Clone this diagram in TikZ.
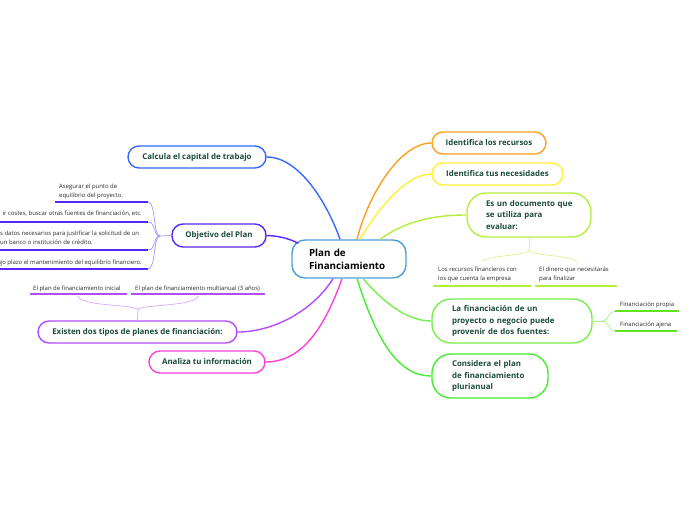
\documentclass[tikz,border=0pt]{standalone}
\usepackage{fontspec}
\setmainfont{Open Sans}
\usetikzlibrary{calc}
\definecolor{txt}{HTML}{1B4A3C}
\definecolor{cCen}{HTML}{4BA0DC}
\definecolor{cCalc}{HTML}{3468FF}
\definecolor{cObj}{HTML}{5526FF}
\definecolor{cObjL}{HTML}{A592FF}
\definecolor{cEx}{HTML}{B14CFF}
\definecolor{cExL}{HTML}{D9A8FF}
\definecolor{cAna}{HTML}{FF3FDA}
\definecolor{cOr}{HTML}{FF9F1F}
\definecolor{cYel}{HTML}{FFEE3A}
\definecolor{cLime}{HTML}{B4EE3C}
\definecolor{cLimeL}{HTML}{D6F68E}
\definecolor{cFin}{HTML}{77EE4C}
\definecolor{cFinS}{HTML}{62E422}
\definecolor{cCons}{HTML}{44EE2E}
\tikzset{
  topic/.style={draw, line width=1.4pt, fill=white, rounded corners=11pt, text=txt,
    font=\bfseries\fontsize{7.9}{11.5}\selectfont, inner sep=0pt, align=center},
  bigtopic/.style={topic, rounded corners=19pt, align=left},
  subtext/.style={font=\fontsize{5.95}{9}\selectfont, inner sep=0pt, align=left, text=black!85},
  conn/.style={line width=1.4pt},
  subconn/.style={line width=0.7pt},
  uline/.style={line width=1.9pt}
}
\begin{document}
\begin{tikzpicture}[x=1pt,y=-1pt]
\useasboundingbox (0,0) rectangle (697,520);

% central node
\node[topic, draw=cCen, rounded corners=13pt, text=black, align=left,
  font=\bfseries\fontsize{9.8}{13}\selectfont, text width=80pt, inner xsep=17pt,
  minimum height=38pt] (c) at (349,259) {Plan de\\Financiamiento};

% left topics
\node[topic, draw=cCalc, minimum width=138pt, minimum height=22pt] (calc) at (197,157) {Calcula el capital de trabajo};
\node[topic, draw=cObj, minimum width=94pt, minimum height=23pt] (obj) at (219,235.5) {Objetivo del Plan};
\node[topic, draw=cEx, minimum width=199pt, minimum height=22pt] (ex) at (137.5,332) {Existen dos tipos de planes de financiación:};
\node[topic, draw=cAna, minimum width=116pt, minimum height=22pt] (ana) at (207,362) {Analiza tu información};

% right topics
\node[topic, draw=cOr, minimum width=114pt, minimum height=22pt] (rec) at (489,143) {Identifica los recursos};
\node[topic, draw=cYel, minimum width=131pt, minimum height=22pt] (nec) at (497.5,174) {Identifica tus necesidades};
\node[bigtopic, draw=cLime, text width=86pt, inner xsep=19pt, minimum height=44pt] (doc) at (529,215)
  {\mbox{Es un documento que}\\se utiliza para\\evaluar:};
\node[bigtopic, draw=cFin, text width=120pt, inner xsep=20pt, minimum height=44pt] (fin) at (512,321)
  {La financiación de un\\\mbox{proyecto o negocio puede}\\provenir de dos fuentes:};
\node[bigtopic, draw=cCons, text width=76pt, inner xsep=20pt, minimum height=44pt] (cons) at (490,376)
  {Considera el plan\\\mbox{de financiamiento}\\plurianual};

% main connectors
\draw[conn, cCalc] (calc.east) .. controls (300,157) and (328,205) .. ($(c.north)+(-9,0)$);
\draw[conn, cObj] (obj.east) .. controls (282,236) and (292,240) .. ($(c.north west)+(7,4)$);
\draw[conn, cOr] (rec.west) .. controls (400,143) and (368,195) .. ($(c.north)+(8,0)$);
\draw[conn, cYel] (nec.west) .. controls (405,174) and (376,212) .. ($(c.north)+(11,0)$);
\draw[conn, cLime] (doc.west) .. controls (425,215) and (400,225) .. ($(c.north)+(31,0)$);
\draw[conn, cFin] ($(c.south)+(14,0)$) .. controls (382,300) and (405,321) .. (fin.west);
\draw[conn, cCons] ($(c.south)+(8,0)$) .. controls (378,345) and (400,376) .. (cons.west);
\draw[conn, cEx] ($(c.south)+(-16,0)$) .. controls (312,312) and (272,332) .. (ex.east);
\draw[conn, cAna] ($(c.south)+(-7,0)$) .. controls (322,335) and (298,362) .. (ana.east);

% Objetivo sub-items
\node[subtext, anchor=south west] (o1) at (59,199.3) {Asegurar el punto de\\equilibrio del proyecto.};
\node[subtext, anchor=base east] (o2) at (142,215.5) {ir costes, buscar otras fuentes de financiación, etc.};
\node[subtext, anchor=south west] (o3) at (0,245) {s datos necesarios para justificar la solicitud de un\\un banco o institución de crédito.};
\node[subtext, anchor=base east] (o4) at (142,264.5) {go plazo el mantenimiento del equilibrio financiero.};
\coordinate (u1l) at (55,202);  \coordinate (u1r) at (148,202);
\coordinate (u2l) at (0,222);   \coordinate (u2r) at (148,222);
\coordinate (u3l) at (0,250);   \coordinate (u3r) at (148,250);
\coordinate (u4l) at (0,269);   \coordinate (u4r) at (148,269);
\coordinate (oj) at (160,236);
\foreach \i in {1,2,3,4}{\draw[uline, cObj] (u\i l) -- (u\i r);}
\draw[subconn, cObjL] (obj.west) -- (oj);
\foreach \i in {1,2,3,4}{\draw[subconn, cObjL] (oj) .. controls (153,236) and (156,0|-u\i r) .. (u\i r);}

% Existen sub-items
\node[subtext, anchor=base west] (e1) at (33,290) {El plan de financiamiento inicial};
\node[subtext, anchor=base west] (e2) at (135,290) {El plan de financiamiento multianual (3 años)};
\coordinate (v1l) at (30,294);  \coordinate (v1r) at (127,294);
\coordinate (v2l) at (131,294); \coordinate (v2r) at (265,294);
\draw[uline, cEx] (v1l) -- (v1r);
\draw[uline, cEx] (v2l) -- (v2r);
\coordinate (exj) at (138,310);
\coordinate (e1t) at (78,296);
\coordinate (e2t) at (198,296);
\draw[subconn, cExL] (ex.north) -- (exj);
\draw[subconn, cExL] (exj) .. controls (137,304) and (81,307) .. (e1t);
\draw[subconn, cExL] (exj) .. controls (139,304) and (195,307) .. (e2t);

% Documento sub-items
\node[subtext, anchor=south west] (d1) at (438,282.3) {Los recursos financieros con\\los que cuenta la empresa};
\node[subtext, anchor=south west] (d2) at (539,282.3) {El dinero que necesitarás\\para finalizar};
\coordinate (w1l) at (433,286); \coordinate (w1r) at (531,286);
\coordinate (w2l) at (535,286); \coordinate (w2r) at (617,286);
\draw[uline, cLime] (w1l) -- (w1r);
\draw[uline, cLime] (w2l) -- (w2r);
\coordinate (dj) at (529,250);
\coordinate (d1t) at (482,262);
\coordinate (d2t) at (577,262);
\draw[subconn, cLimeL] (doc.south) -- (dj);
\draw[subconn, cLimeL] (dj) .. controls (528,256) and (485,255) .. (d1t);
\draw[subconn, cLimeL] (dj) .. controls (530,256) and (574,255) .. (d2t);

% Financiacion sub-items
\node[subtext, anchor=base west] (f1) at (620,306) {Financiación propia};
\node[subtext, anchor=base west] (f2) at (620,326) {Financiación ajena};
\coordinate (x1l) at (615,311); \coordinate (x1r) at (679,311);
\coordinate (x2l) at (615,331); \coordinate (x2r) at (677,331);
\draw[uline, cFinS] (x1l) -- (x1r);
\draw[uline, cFinS] (x2l) -- (x2r);
\coordinate (fj) at (603,321);
\draw[subconn, cFin!70] (fin.east) -- (fj);
\draw[subconn, cFin!70] (fj) .. controls (608,321) and (609,311) .. (x1l);
\draw[subconn, cFin!70] (fj) .. controls (608,321) and (609,331) .. (x2l);
\end{tikzpicture}
\end{document}
